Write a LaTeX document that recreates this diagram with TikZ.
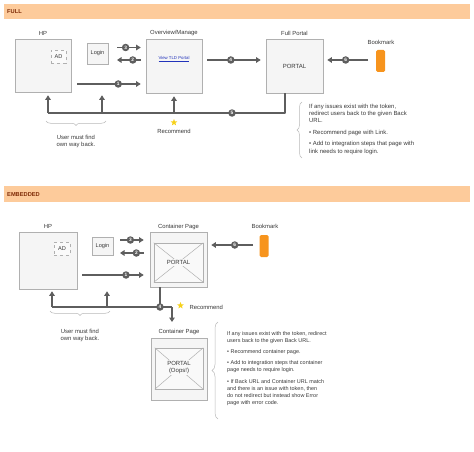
\documentclass[tikz,border=0pt]{standalone}
\usepackage{fontspec}
\setmainfont{Liberation Sans}
\usetikzlibrary{arrows.meta,shapes.geometric,decorations.pathreplacing,calc}
\definecolor{hdr}{HTML}{FDCB9B}
\definecolor{hdrtxt}{HTML}{7E2A05}
\definecolor{ln}{HTML}{5E5E5E}
\definecolor{bx}{HTML}{B0B0B0}
\definecolor{bkm}{HTML}{F7941D}
\definecolor{stary}{HTML}{F6D11A}
\definecolor{txt}{HTML}{383838}
\definecolor{lnk}{HTML}{2233BB}
\begin{document}
\begin{tikzpicture}[x=1pt,y=-1pt,
  every node/.style={text=txt},
  page/.style={draw=bx, fill=gray!8, line width=0.6pt, inner sep=0pt},
  adbox/.style={page, dashed, fill=gray!4, font=\fontsize{5.6}{6}\selectfont},
  pline/.style={draw=ln, line width=1.7pt},
  arr/.style={pline, -{Triangle[length=4.5pt,width=5.5pt]}},
  num/.style={circle, fill=ln, text=white, inner sep=0pt, minimum size=7.5pt, font=\fontsize{4.8}{5}\selectfont\bfseries},
  lbl/.style={font=\fontsize{5.9}{6.8}\selectfont},
  hdrbar/.style={fill=hdr, draw=none},
  hdrlbl/.style={anchor=west, inner sep=0pt, text=hdrtxt, font=\fontsize{5.7}{6}\selectfont\bfseries},
  bookm/.style={fill=bkm, draw=none, rounded corners=1.5pt, inner sep=0pt, minimum width=9pt, minimum height=22pt},
  starn/.style={star, star points=5, star point ratio=2.3, fill=stary, draw=none, inner sep=0pt, minimum size=7pt},
  brc/.style={draw=gray!55, line width=0.5pt, decorate, decoration={brace, amplitude=4.5pt}},
  note/.style={anchor=north west, align=left, inner sep=0pt},
  xbox/.style={page, fill=gray!5}
]
\useasboundingbox (0,0) rectangle (474,452);

%% ================= FULL =================
\node[hdrbar, minimum width=466pt, minimum height=15pt, inner sep=0pt] (h1) at (237,11.5) {};
\node[hdrlbl] (h1t) at (7,12) {FULL};

\node[page, minimum width=56pt, minimum height=53pt] (hp) at (43,65.5) {};
\node[lbl] (hpl) at (43,33) {HP};
\node[adbox, minimum width=15pt, minimum height=13pt] (ad) at (58.5,56.5) {AD};
\node[page, minimum width=21pt, minimum height=21pt, font=\fontsize{5.6}{6}\selectfont] (login) at (97.5,53.5) {Login};

\node[page, minimum width=56pt, minimum height=54pt] (ov) at (174,66) {};
\node[lbl] (ovl) at (174,33) {Overview/Manage};
\node[text=lnk, font=\fontsize{4.3}{5}\selectfont] (link) at (174,59) {\underline{View TLD Portal}};

\node[page, minimum width=57pt, minimum height=54pt, font=\fontsize{6}{7}\selectfont] (fp) at (294.5,66) {PORTAL};
\node[lbl] (fpl) at (294.5,33) {Full Portal};

\node[bookm] (bm) at (380.5,61) {};
\node[lbl] (bml) at (381,42) {Bookmark};

% arrows
\coordinate (a3) at (117,47.5);
\draw[arr, shorten >=5pt] (a3) -- (a3 -| ov.west) node[num, pos=0.3] (n3) {3};
\coordinate (a2) at (117,60);
\draw[arr, shorten <=5pt] (a2 -| ov.west) -- (a2) node[num, pos=0.45] (n2) {2};
\coordinate (a1) at (77,84);
\draw[arr, shorten >=5pt] (a1) -- (a1 -| ov.west) node[num, pos=0.6] (n1) {1};
\coordinate (a4) at (174,60);
\draw[arr, shorten <=5pt, shorten >=5pt] (a4 -| ov.east) -- (a4 -| fp.west) node[num, pos=0.45] (n4) {4};
\coordinate (a6) at (368,60);
\draw[arr, shorten >=4pt] (a6) -- (a6 -| fp.east) node[num, pos=0.5] (n6) {6};

\coordinate (b5) at (285,113);
\coordinate (b5l) at (48,113);
\draw[pline, line join=round] (fp.south -| b5) -- (b5) -- (b5l);
\node[num] (n5) at (232,113) {5};
\draw[arr, shorten >=3pt] (b5l) -- (b5l |- hp.south);
\coordinate (b5m) at (102,113);
\draw[arr, shorten >=3pt] (b5m) -- (b5m |- hp.south);
\coordinate (b5r) at (174,113);
\draw[arr, shorten >=3pt] (b5r) -- (ov.south);

\node[starn] (st1) at (174,122.5) {};
\node[lbl] (rec1) at (174,131.5) {Recommend};

\coordinate (br1a) at (106,121);
\coordinate (br1b) at (46,121);
\draw[brc] (br1a) -- (br1b);
\node[lbl, align=center] (umf1) at (76,141.5) {User must find\\own way back.};

\coordinate (nb1a) at (302,158);
\coordinate (nb1b) at (302,102);
\draw[brc, decoration={brace, amplitude=5pt}] (nb1a) -- (nb1b);
\node[note, font=\fontsize{5.95}{7.2}\selectfont] (note1) at (309,104) {If any issues exist with the token,\\
redirect users back to the given Back\\
URL.\\[4.3pt]
\textbullet\ Recommend page with Link.\\[4.3pt]
\textbullet\ Add to integration steps that page with\\
link needs to require login.};

%% ================= EMBEDDED =================
\node[hdrbar, minimum width=466pt, minimum height=16pt, inner sep=0pt] (h2) at (237,194) {};
\node[hdrlbl] (h2t) at (7,194.5) {EMBEDDED};

\node[page, minimum width=58pt, minimum height=57pt] (hp2) at (48,260.5) {};
\node[lbl] (hp2l) at (48,226) {HP};
\node[adbox, minimum width=16pt, minimum height=13pt] (ad2) at (62,248.5) {AD};
\node[page, minimum width=21pt, minimum height=18pt, font=\fontsize{5.6}{6}\selectfont] (login2) at (102.5,246) {Login};

\node[page, minimum width=57pt, minimum height=55pt] (cp) at (178.5,259.5) {};
\node[lbl] (cpl) at (178.5,227) {Container Page};
\node[xbox, minimum width=49pt, minimum height=39pt] (cpi) at (178.5,262.5) {};
\draw[bx, line width=0.5pt] (cpi.north west) -- (cpi.south east) (cpi.north east) -- (cpi.south west);
\node[fill=gray!5, inner sep=1pt, font=\fontsize{6}{7}\selectfont] (cpt) at (178.5,262.5) {PORTAL};

\node[bookm] (bm2) at (264,246) {};
\node[lbl] (bm2l) at (265,226) {Bookmark};

\coordinate (e3) at (120,240);
\draw[arr, shorten >=6pt] (e3) -- (e3 -| cp.west) node[num, pos=0.35] (m3) {3};
\coordinate (e2) at (120,253);
\draw[arr, shorten <=6pt] (e2 -| cp.west) -- (e2) node[num, pos=0.45] (m2) {2};
\coordinate (e1) at (82,275);
\draw[arr, shorten >=6pt] (e1) -- (e1 -| cp.west) node[num, pos=0.65] (m1) {1};
\coordinate (e6) at (253,245);
\draw[arr, shorten >=4pt] (e6) -- (e6 -| cp.east) node[num, pos=0.4] (m6) {6};

\coordinate (f4) at (160,307);
\coordinate (f4l) at (52,307);
\coordinate (f4r) at (172,307);
\draw[pline] (cp.south -| f4) -- (f4);
\draw[pline, line join=round] (f4l) -- (f4r);
\draw[arr, line join=round] (f4r) -- (172,322);
\node[num] (m4) at (f4) {4};
\draw[arr, shorten >=2pt] (f4l) -- (f4l |- hp2.south);
\coordinate (f4m) at (107,307);
\draw[arr, shorten >=2pt] (f4m) -- (f4m |- hp2.south);

\node[starn] (st2) at (180.5,305.5) {};
\node[lbl, anchor=west] (rec2) at (186,307) {Recommend};

\coordinate (br2a) at (110,311);
\coordinate (br2b) at (50,311);
\draw[brc] (br2a) -- (br2b);
\node[lbl, align=center] (umf2) at (80,335.5) {User must find\\own way back.};

\node[lbl] (cp2l) at (179,332) {Container Page};
\node[page, minimum width=56pt, minimum height=62pt] (cp2) at (179,369) {};
\node[xbox, minimum width=48pt, minimum height=41pt] (cp2i) at (179,368.5) {};
\draw[bx, line width=0.5pt] (cp2i.north west) -- (cp2i.south east) (cp2i.north east) -- (cp2i.south west);
\node[fill=gray!5, inner sep=1pt, align=center, font=\fontsize{6}{7}\selectfont] (cp2t) at (179,367.5) {PORTAL\\(Oops!)};

\coordinate (nb2a) at (218,419);
\coordinate (nb2b) at (218,322);
\draw[brc, decoration={brace, amplitude=6pt}] (nb2a) -- (nb2b);
\node[note, font=\fontsize{5.45}{7}\selectfont] (note2) at (227,331) {If any issues exist with the token, redirect\\
users back to the given Back URL.\\[4.3pt]
\textbullet\ Recommend container page.\\[4.3pt]
\textbullet\ Add to integration steps that container\\
page needs to require login.\\[4.3pt]
\textbullet\ If Back URL and Container URL match\\
and there is an issue with token, then\\
do not redirect but instead show Error\\
page with error code.};
\end{tikzpicture}
\end{document}
